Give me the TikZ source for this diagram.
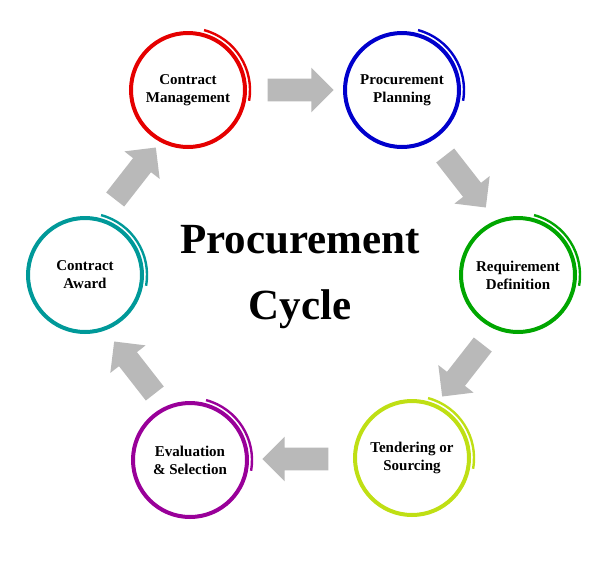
\documentclass[tikz,border=0pt]{standalone}
\usepackage{fontspec}
\setmainfont{Liberation Serif}
\usetikzlibrary{positioning,calc,shapes.arrows}
\tikzstyle{stage}=[circle,minimum size=56pt,inner sep=0pt,align=center,font=\fontsize{7.5}{9}\selectfont\bfseries]
\tikzstyle{flow}=[single arrow,fill=gray!55,minimum height=33pt,inner sep=5.5pt,single arrow head extend=5.5pt]
\newcommand{\ring}[2]{%
  \draw[#2,line width=2pt] (#1) circle (28.5pt);
  \draw[#2,line width=1.2pt] ($(#1)+(75:31pt)$) arc (75:-10:31pt);}
\begin{document}
\begin{tikzpicture}[x=0.5pt,y=-0.5pt]
\useasboundingbox (0,0) rectangle (600,574);
\node [stage] (cm) at (188,90) {Contract\\Management};
\node [stage] (pp) at (402,90) {Procurement\\Planning};
\node [stage] (rd) at (518,275) {Requirement\\Definition};
\node [stage] (ts) at (412,458) {Tendering or\\Sourcing};
\node [stage] (es) at (190,460) {Evaluation\\\& Selection};
\node [stage] (ca) at (85,275) {Contract\\Award};
\node [font=\fontsize{21.5}{33}\selectfont\bfseries,align=center] (title) at (300,277) {Procurement\\Cycle};
% rings
\ring{cm}{red!90!black}
\ring{pp}{blue!80!black}
\ring{rd}{green!65!black}
\ring{ts}{yellow!75!green}
\ring{es}{violet!80!magenta}
\ring{ca}{teal!80!cyan}
% arrows
\node [flow] at ($(cm)!0.5!(pp)$) {};
\node [flow,rotate=-52] at (462,177) {};
\node [flow,rotate=-128] at (466,366) {};
\node [flow,rotate=180] at ($(ts)!0.5!(es)$) {};
\node [flow,rotate=128] at (138,372) {};
\node [flow,rotate=52] at (132,178) {};
\end{tikzpicture}
\end{document}
